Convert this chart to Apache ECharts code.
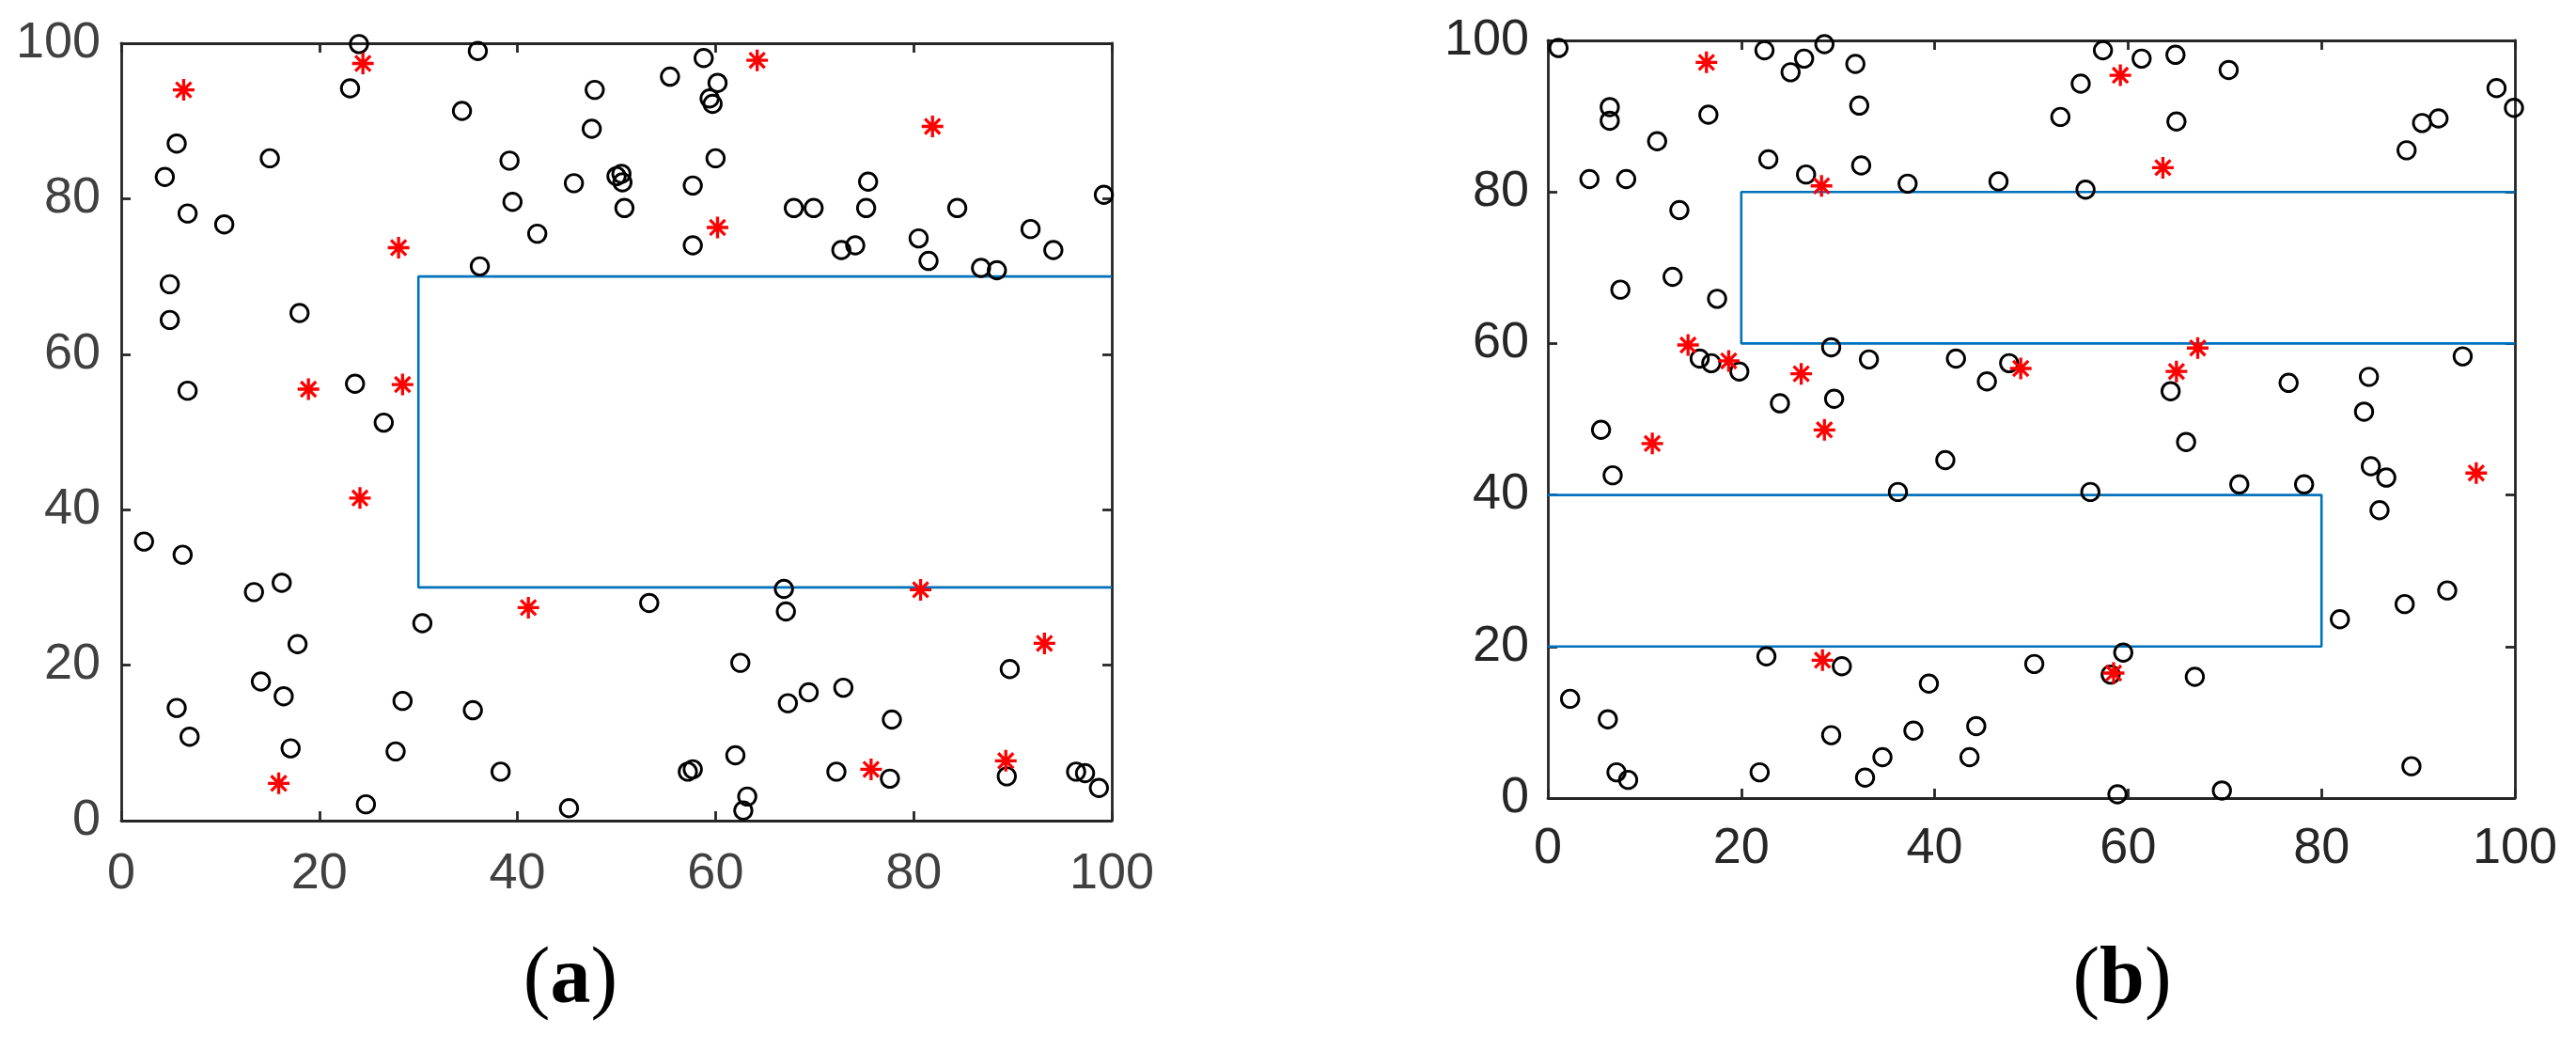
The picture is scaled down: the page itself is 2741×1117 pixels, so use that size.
<!DOCTYPE html>
<html>
<head>
<meta charset="utf-8">
<script src="https://cdn.jsdelivr.net/npm/echarts@6/dist/echarts.min.js"></script>
<style>
html,body{margin:0;padding:0;background:#ffffff;}
#c{width:2741px;height:1117px;}
</style>
</head>
<body>
<div id="c"></div>
<script>
// ---------- data ----------
const axisTicks = [0, 20, 40, 60, 80, 100];
const panelLabels = ['a', 'b'];

// panel (a): black circles
const aCircleX = [24.0,36.0,23.1,58.8,55.4,60.2,59.4,59.7,47.8,34.4,47.5,5.6,15.0,4.4,39.2,60.0,45.7,50.0,50.5,50.6,57.7,75.4,99.2,6.7,10.4,39.5,50.8,67.9,69.9,75.2,84.4,42.0,57.7,72.7,74.1,80.5,91.8,94.1,81.5,86.8,88.4,36.2,4.9,4.9,18.0,6.7,23.6,26.5,
  2.3,6.2,13.4,16.2,30.4,53.3,66.9,67.1,17.8,62.5,89.7,14.1,16.4,5.6,28.4,35.5,67.3,69.4,72.9,77.8,6.9,17.1,27.7,38.3,57.2,57.7,62.0,72.2,77.6,89.4,96.4,97.3,98.7,24.7,45.2,63.2,62.8];
const aCircleY = [99.9,99.0,94.2,98.1,95.7,94.9,92.9,92.2,94.0,91.3,89.0,87.1,85.2,82.8,84.9,85.2,82.0,82.9,83.2,82.1,81.7,82.2,80.5,78.1,76.7,79.6,78.8,78.8,78.8,78.8,78.8,75.5,74.0,73.4,74.0,74.9,76.1,73.4,72.0,71.1,70.8,71.3,69.0,64.4,65.3,55.3,56.2,51.2,
  35.9,34.2,29.4,30.6,25.4,28.0,29.8,26.9,22.7,20.3,19.5,17.9,16.0,14.5,15.4,14.2,15.1,16.5,17.1,13.0,10.8,9.3,8.9,6.3,6.3,6.6,8.4,6.3,5.4,5.7,6.3,6.1,4.2,2.1,1.6,3.1,1.3];
// panel (a): red asterisks
const aStarX = [6.3,24.4,64.2,81.9,60.2,28.0,18.9,28.4,24.1,41.1,80.7,93.2,15.9,75.7,89.3];
const aStarY = [94.0,97.4,97.8,89.3,76.3,73.7,55.5,56.1,41.5,27.4,29.7,22.8,4.8,6.6,7.7];
// panel (a): rectangle [xmin,xmax], [ymin,ymax]
const aRectX = [30, 100];
const aRectY = [30, 70];

// panel (b): black circles
const bCircleX = [1.1,22.4,28.6,26.5,25.1,31.8,57.4,61.4,64.9,70.4,55.1,98.1,99.9,6.4,6.4,16.6,32.2,53.0,65.0,90.4,92.1,11.3,88.8,22.8,32.4,4.3,8.1,26.7,37.2,46.6,55.6,13.6,12.9,7.5,17.5,29.3,15.7,16.9,19.8,33.2,42.2,47.7,45.4,64.4,94.6,84.9,76.6,84.4,24.0,29.6,
  5.5,6.7,41.1,66.0,85.1,86.7,71.5,78.2,36.2,56.1,86.0,93.0,88.6,81.9,22.6,30.4,50.3,59.5,58.2,66.9,39.4,2.3,6.2,29.3,37.8,44.3,34.6,43.6,7.1,8.3,21.9,32.8,58.9,69.7,89.3];
const bCircleY = [99.0,98.7,99.5,97.6,95.8,96.9,98.7,97.6,98.1,96.1,94.3,93.7,91.1,91.2,89.4,90.2,91.4,89.9,89.3,89.1,89.7,86.7,85.5,84.3,83.5,81.7,81.7,82.3,81.1,81.4,80.3,77.6,68.8,67.1,65.9,59.5,58.0,57.4,56.3,57.9,58.0,57.4,55.0,53.7,58.3,55.6,54.8,51.0,52.1,52.7,
  48.6,42.6,44.6,47.0,43.8,42.3,41.4,41.4,40.4,40.4,38.0,27.4,25.6,23.6,18.7,17.4,17.7,19.2,16.3,16.0,15.1,13.1,10.4,8.3,8.9,9.5,5.4,5.4,3.4,2.4,3.4,2.7,0.5,1.0,4.2];
// panel (b): red asterisks
const bStarX = [16.4,59.2,63.6,28.3,14.5,18.7,26.2,48.9,65.0,67.2,28.6,10.8,96.0,28.4,58.5];
const bStarY = [97.1,95.4,83.2,80.8,59.8,57.7,56.0,56.7,56.3,59.4,48.6,46.8,42.9,18.2,16.5];
// panel (b): rectangles
const bRect1X = [20, 100];
const bRect1Y = [60, 80];
const bRect2X = [0, 80];
const bRect2Y = [20, 40];

// ---------- helpers ----------
function pairs(xs, ys) { return xs.map((x, i) => [x, ys[i]]); }
// rectangle outline with one side left open (that side lies on the axis box)
function rectPath(rx, ry, openSide) {
  const x0 = rx[0], x1 = rx[1], y0 = ry[0], y1 = ry[1];
  if (openSide === 'right') return [[x1, y0], [x0, y0], [x0, y1], [x1, y1]];
  return [[x0, y1], [x1, y1], [x1, y0], [x0, y0]];
}

const AX = '#262626';
const STAR = 'path://M0,-1L0,1M-1,0L1,0M-0.7,-0.7L0.7,0.7M-0.7,0.7L0.7,-0.7';

function xAxes(gi, labelColor, margin) {
  const base = {
    gridIndex: gi, type: 'value',
    min: axisTicks[0], max: axisTicks[axisTicks.length - 1],
    interval: axisTicks[1] - axisTicks[0],
    splitLine: { show: false },
    axisLine: { show: true, onZero: false, lineStyle: { color: AX, width: 2.8 } },
    axisTick: { show: true, inside: true, length: 10, lineStyle: { color: AX, width: 2.8 } }
  };
  return [
    Object.assign({}, base, { position: 'bottom',
      axisLabel: { color: labelColor, fontSize: 54, fontFamily: 'Liberation Sans', margin: margin } }),
    Object.assign({}, base, { position: 'top', axisLabel: { show: false } })
  ];
}
function yAxes(gi, labelColor, margin) {
  const base = {
    gridIndex: gi, type: 'value',
    min: axisTicks[0], max: axisTicks[axisTicks.length - 1],
    interval: axisTicks[1] - axisTicks[0],
    splitLine: { show: false },
    axisLine: { show: true, onZero: false, lineStyle: { color: AX, width: 2.8 } },
    axisTick: { show: true, inside: true, length: 10, lineStyle: { color: AX, width: 2.8 } }
  };
  return [
    Object.assign({}, base, { position: 'left',
      axisLabel: { color: labelColor, fontSize: 54, fontFamily: 'Liberation Sans', margin: margin } }),
    Object.assign({}, base, { position: 'right', axisLabel: { show: false } })
  ];
}

function lineSeries(xi, yi, data) {
  return { type: 'line', xAxisIndex: xi, yAxisIndex: yi, data: data, symbol: 'none',
    lineStyle: { color: '#0072BD', width: 2.6 }, silent: true, z: 2 };
}
function circleSeries(xi, yi, data) {
  return { type: 'scatter', xAxisIndex: xi, yAxisIndex: yi, data: data, symbol: 'circle', symbolSize: 18.5,
    itemStyle: { color: 'rgba(0,0,0,0)', borderColor: '#000000', borderWidth: 2.9, opacity: 1 }, z: 3 };
}
function starSeries(xi, yi, data) {
  return { type: 'scatter', xAxisIndex: xi, yAxisIndex: yi, data: data, symbol: STAR, symbolSize: 23,
    itemStyle: { color: '#ff0000', borderColor: '#ff0000', borderWidth: 3.3, opacity: 1 }, z: 4 };
}

function panelLabel(letter, x, y) {
  return {
    type: 'text', x: x, y: y, silent: true,
    style: {
      text: '{p|(}{b|' + letter + '}{p|)}',
      textAlign: 'center', textVerticalAlign: 'middle',
      fill: '#000000',
      rich: {
        p: { fontFamily: 'Liberation Serif', fontSize: 86, fill: '#000000' },
        b: { fontFamily: 'Liberation Serif', fontSize: 86, fontWeight: 'bold', fill: '#000000' }
      }
    }
  };
}

const chart = echarts.init(document.getElementById('c'), null, { renderer: 'canvas' });
chart.setOption({
  backgroundColor: '#ffffff',
  animation: false,
  grid: [
    { left: 129, top: 46, width: 1054, height: 827 },
    { left: 1647, top: 43, width: 1029, height: 806 }
  ],
  xAxis: xAxes(0, '#404040', 30).concat(xAxes(1, '#262626', 27)),
  yAxis: yAxes(0, '#404040', 22).concat(yAxes(1, '#262626', 20)),
  series: [
    lineSeries(0, 0, rectPath(aRectX, aRectY, 'right')),
    circleSeries(0, 0, pairs(aCircleX, aCircleY)),
    starSeries(0, 0, pairs(aStarX, aStarY)),
    lineSeries(2, 2, rectPath(bRect1X, bRect1Y, 'right')),
    lineSeries(2, 2, rectPath(bRect2X, bRect2Y, 'left')),
    circleSeries(2, 2, pairs(bCircleX, bCircleY)),
    starSeries(2, 2, pairs(bStarX, bStarY))
  ],
  graphic: [
    panelLabel(panelLabels[0], 607, 1044),
    panelLabel(panelLabels[1], 2258, 1044)
  ]
});
</script>
</body>
</html>
